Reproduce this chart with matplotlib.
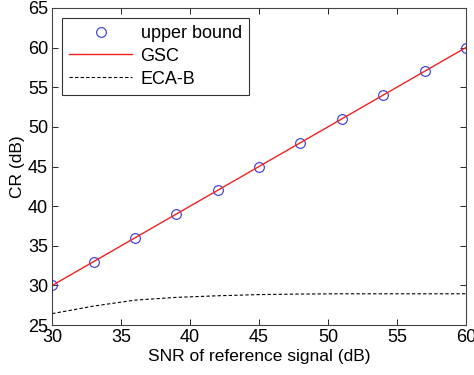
import matplotlib
matplotlib.use("Agg")
import matplotlib.pyplot as plt

plt.rcParams['font.family'] = ['Liberation Sans', 'DejaVu Sans']

snr = [30, 33, 36, 39, 42, 45, 48, 51, 54, 57, 60]
upper_bound = [30, 33, 36, 39, 42, 45, 48, 51, 54, 57, 60]
gsc = [30, 33, 36, 39, 42, 45, 48, 51, 54, 57, 60]
eca_b = [26.45, 27.4, 28.15, 28.5, 28.7, 28.85, 28.92, 28.95, 28.95, 28.95, 28.95]

fig = plt.figure(figsize=(4.74, 3.75), dpi=100)
ax = fig.add_axes([0.110, 0.133, 0.873, 0.846])

ax.plot(snr, upper_bound, 'o', color='#3333dd', markerfacecolor='none',
        markersize=7, markeredgewidth=0.8, label='upper bound')
ax.plot(snr, gsc, '-', color='#ee2222', linewidth=1.0, label='GSC')
ax.plot(snr, eca_b, '--', color='black', linewidth=0.8, dashes=(3, 2), label='ECA-B')

ax.set_xlim(30, 60)
ax.set_ylim(25, 65)
ax.set_xticks([30, 35, 40, 45, 50, 55, 60])
ax.set_yticks([25, 30, 35, 40, 45, 50, 55, 60, 65])
ax.tick_params(direction='in', labelsize=13, top=True, right=True, length=4, width=0.6, pad=3)
for s in ax.spines.values():
    s.set_linewidth(0.8)
    s.set_color('#444444')
ax.set_xlabel('SNR of reference signal (dB)', fontsize=12.5, labelpad=2)
ax.set_ylabel('CR (dB)', fontsize=12.5, labelpad=2)

leg = ax.legend(loc='upper left', fontsize=13, frameon=True, fancybox=False,
                edgecolor='black', borderaxespad=0.55, handlelength=3.5,
                labelspacing=0.32, borderpad=0.4, handletextpad=0.45)
leg.get_frame().set_linewidth(0.8)

fig.savefig('out.png', dpi=100)
